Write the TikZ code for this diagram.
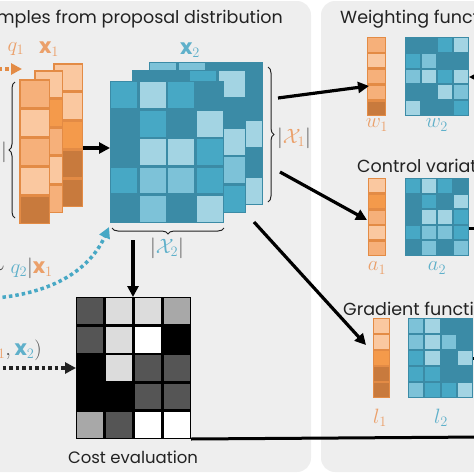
\documentclass[tikz,border=0pt]{standalone}
\usepackage{amsmath}
\usepackage{amssymb}
\usepackage{fontspec}
\setmainfont{Poppins}
\usetikzlibrary{arrows.meta,decorations.pathreplacing}

% blue shades
\definecolor{bd}{HTML}{3B8BA6}
\definecolor{bm}{HTML}{47A8C5}
\definecolor{bx}{HTML}{7DC2D8}
\definecolor{bl}{HTML}{A3D4E3}
% orange shades
\definecolor{oframe}{HTML}{E38B45}
\definecolor{ol}{HTML}{FAC8A0}
\definecolor{ox}{HTML}{F6B07A}
\definecolor{om}{HTML}{F49A4B}
\definecolor{od}{HTML}{C87A3D}
% grays
\definecolor{gk}{HTML}{000000}
\definecolor{gd}{HTML}{555555}
\definecolor{gm}{HTML}{A8A8A8}
\definecolor{gl}{HTML}{DCDCDC}
\definecolor{gw}{HTML}{FFFFFF}
\definecolor{panel}{HTML}{EEEEEE}
\definecolor{olab}{HTML}{EBA06A}
\definecolor{blab}{HTML}{5FB0CA}
\definecolor{ink}{HTML}{222222}

% cells of a grid: corner x, corner y, cell width, cell height, inset, rows
\newcommand{\drawcells}[6]{%
  \foreach \cellrow [count=\i from 0] in {#6} {
    \foreach \cellcol [count=\j from 0] in \cellrow {
      \fill[fill=\cellcol] ({#1+\j*#3+#5},{#2+\i*#4+#5}) rectangle ({#1+(\j+1)*#3-#5},{#2+(\i+1)*#4-#5});
    }
  }%
}

\tikzset{
  gridbox/.style={fill=#1, inner sep=0pt, outer sep=0pt, anchor=north west},
  title/.style={text=ink, font=\fontsize{17.5}{19}\selectfont, inner sep=0pt},
  lab/.style={font=\fontsize{21}{23}\selectfont, inner sep=0pt},
  flow/.style={line width=3.2pt, -{Triangle[length=11pt,width=11pt]}},
  dots/.style={line width=3.5pt, dash pattern=on 3.5pt off 3pt, -{Triangle[length=11pt,width=11pt]}},
  curly/.style={decorate, decoration={brace, amplitude=6pt}, line width=1pt, ink},
}

\begin{document}
\begin{tikzpicture}[x=1pt,y=-1pt]
  \useasboundingbox (0,0) rectangle (474,474);

  % Draw the two panels
  \fill[panel, rounded corners=14pt] (-30,1) rectangle (311,472);
  \fill[panel, rounded corners=14pt] (321,1) rectangle (520,472);

  % Titles
  \node[title, anchor=base east] (ttlsamples) at (283,23) {Samples from proposal distribution};
  \node[title, anchor=base west] (ttlweight) at (340,23) {Weighting function};
  \node[title, anchor=base west] (ttlcontrol) at (357,172) {Control variate};
  \node[title, anchor=base west] (ttlgrad) at (343,315) {Gradient function};
  \node[title, font=\fontsize{16.5}{18}\selectfont, anchor=base] (ttlcost) at (133,463) {Cost evaluation};

  % Stack of x1 samples (back to front)
  \node[gridbox=oframe, minimum width=30pt, minimum height=144pt] (x1c) at (53,63) {};
  \drawcells{53}{63}{30}{28.8}{1.5}{{ol},{ol},{om},{od},{od}}
  \node[gridbox=oframe, minimum width=29pt, minimum height=143pt] (x1b) at (34,70) {};
  \drawcells{34}{70}{29}{28.6}{1.5}{{ol},{om},{ox},{ol},{ox}}
  \node[gridbox=oframe, minimum width=31pt, minimum height=145pt] (x1a) at (19,79) {};
  \drawcells{19}{79}{31}{29}{1.5}{{ox},{ol},{ox},{ol},{od}}

  % Stack of x2 samples (back to front)
  \node[gridbox=bd, minimum width=114pt, minimum height=143pt] (x2c) at (149,62) {};
  \drawcells{149}{62}{28.5}{28.6}{1.3}{{bx,bx,bd,bd},{bd,bd,bd,bd},{bd,bd,bd,bl},{bd,bd,bd,bd},{bd,bd,bd,bl}}
  \node[gridbox=bd, minimum width=114pt, minimum height=143pt] (x2b) at (132,70) {};
  \drawcells{132}{70}{28.5}{28.6}{1.3}{{bd,bd,bm,bl},{bd,bd,bd,bd},{bd,bd,bd,bl},{bd,bd,bd,bx},{bd,bd,bd,bm}}
  \node[gridbox=bd, minimum width=114pt, minimum height=142pt] (x2a) at (110,81) {};
  \drawcells{110}{81}{28.5}{28.4}{1.3}{{bm,bl,bm,bd},{bd,bm,bd,bl},{bd,bl,bl,bm},{bm,bx,bx,bm},{bd,bx,bd,bl}}

  % Cost matrix
  \node[gridbox=gk, minimum width=115pt, minimum height=142pt] (cost) at (76,297) {};
  \drawcells{76}{297}{28.75}{28.4}{1.3}{{gd,gl,gl,gm},{gd,gl,gw,gk},{gk,gl,gd,gd},{gk,gk,gd,gd},{gm,gd,gw,gw}}

  % Weighting function
  \node[gridbox=oframe, minimum width=19pt, minimum height=79pt] (w1) at (367,37) {};
  \drawcells{367}{37}{19}{15.8}{1.3}{{ox},{ol},{ox},{ox},{od}}
  \node[gridbox=bd, minimum width=64pt, minimum height=79pt] (w2) at (405,37) {};
  \drawcells{405}{37}{16}{15.8}{1}{{bd,bd,bm,bl},{bm,bx,bd,bd},{bx,bl,bm,bl},{bd,bd,bl,bx},{bl,bd,bd,bm}}

  % Control variate
  \node[gridbox=oframe, minimum width=18pt, minimum height=78pt] (a1) at (368,178) {};
  \drawcells{368}{178}{18}{15.6}{1.3}{{ol},{om},{ox},{ol},{ox}}
  \node[gridbox=bd, minimum width=64pt, minimum height=78pt] (a2) at (405,178) {};
  \drawcells{405}{178}{16}{15.6}{1}{{bm,bl,bm,bd},{bd,bm,bd,bl},{bd,bl,bl,bm},{bm,bx,bx,bm},{bd,bx,bd,bx}}

  % Gradient function
  \node[gridbox=oframe, minimum width=17pt, minimum height=80pt] (l1) at (373,318) {};
  \drawcells{373}{318}{17}{16}{1.3}{{ol},{ol},{om},{od},{od}}
  \node[gridbox=bd, minimum width=65pt, minimum height=80pt] (l2) at (408,318) {};
  \drawcells{408}{318}{16.25}{16}{1}{{bx,bl,bd,bd},{bx,bl,bx,bd},{bm,bl,bd,bl},{bm,bm,bd,bd},{bx,bm,bm,bl}}

  % Braces
  \draw[curly] (15,218) -- (15,82);
  \draw[curly] (268,67) -- (268,202);
  \draw[curly, decoration={mirror}] (112,228) -- (224,228);

  % Labels
  \node[lab, text=olab] (lq1) at (16,49) {$q_1$};
  \node[lab, text=olab] (lx1) at (49,49) {$\mathbf{x}_1$};
  \node[lab, text=blab] (lx2) at (190,50) {$\mathbf{x}_2$};
  \node[lab, text=ink!80, anchor=east] (lsetl) at (7,152) {$|{\color{olab}\mathcal{X}_1}|$};
  \node[lab, text=ink!80] (lsetr) at (294,138) {$|{\color{olab}\mathcal{X}_1}|$};
  \node[lab, text=ink!80] (lsetb) at (167,248) {$|{\color{blab}\mathcal{X}_2}|$};
  \node[lab, text=olab] (lw1) at (377,125) {$w_1$};
  \node[lab, text=blab] (lw2) at (437,125) {$w_2$};
  \node[lab, text=olab] (la1) at (377,268) {$a_1$};
  \node[lab, text=blab] (la2) at (437,268) {$a_2$};
  \node[lab, text=olab] (ll1) at (380,418) {$l_1$};
  \node[lab, text=blab] (ll2) at (441,418) {$l_2$};
  \node[lab, text=ink!80, anchor=east] (lq2) at (53,268) {$\sim{\color{blab}q_2}|{\color{olab}\mathbf{x}_1}$};
  \node[lab, text=ink!80, anchor=east] (lpair) at (42,350) {$({\color{olab}\mathbf{x}_1},{\color{blab}\mathbf{x}_2})$};

  % Connector ends
  \coordinate (qin) at (-8,69);
  \coordinate (qend) at (22,69);
  \coordinate (x1out) at (83,148);
  \coordinate (x2in) at (110,148);
  \coordinate (q2in) at (-4,298);
  \coordinate (q2end) at (109,227);
  \coordinate (x2down) at (133,240);
  \coordinate (pairin) at (-4,368);
  \coordinate (toW) at (278,98);
  \coordinate (toA) at (280,172);
  \coordinate (toL) at (254,222);
  \coordinate (wtip) at (369,86);
  \coordinate (atip) at (367,220);
  \coordinate (ltip) at (366,345);
  \coordinate (farw) at (484,77);
  \coordinate (fara) at (484,228);
  \coordinate (farl) at (484,358);
  \coordinate (farcost) at (484,437);

  % Arrows
  \draw[dots, oframe] (qin) -- (qend);
  \draw[flow] (x1out) -- (x2in);
  \draw[dots, bm] (q2in) .. controls (60,292) and (92,265) .. (q2end);
  \draw[flow] (x2down) -- (cost.north -| x2down);
  \draw[dots, ink] (pairin) -- (cost.west |- pairin);
  \draw[flow] (toW) -- (wtip);
  \draw[flow] (toA) -- (atip);
  \draw[flow] (toL) -- (ltip);
  \draw[flow] (farw) -- (w2.east |- farw);
  \draw[line width=3pt] (a2.east |- fara) -- (fara);
  \draw[line width=3pt] (l2.east |- farl) -- (farl);
  \draw[line width=3pt] (cost.south east) -- (farcost);
\end{tikzpicture}
\end{document}
